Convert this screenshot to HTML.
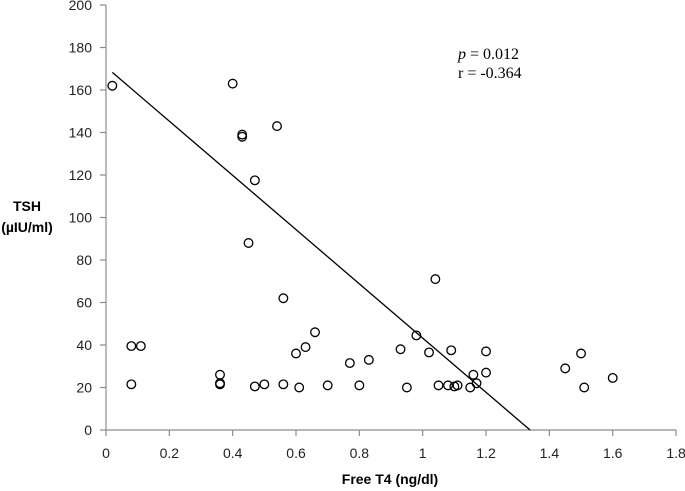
<!DOCTYPE html>
<html><head><meta charset="utf-8"><style>
html,body{margin:0;padding:0;background:#fff;}
svg{display:block;font-family:"Liberation Sans",sans-serif;}
</style></head><body>
<svg id="chart" width="685" height="491" viewBox="0 0 685 491">
<g id="axes"></g>
<g id="marks"></g>
<line id="trend" stroke="#000" stroke-width="1.3"/>
<text x="27" y="211" text-anchor="middle" font-size="14" font-weight="bold">TSH</text>
<text x="27" y="232" text-anchor="middle" font-size="14" font-weight="bold">(µIU/ml)</text>
<text x="390" y="484" text-anchor="middle" font-size="14" font-weight="bold">Free T4 (ng/dl)</text>
<text x="458" y="59" font-family="Liberation Serif,serif" font-size="16"><tspan font-style="italic">p</tspan> = 0.012</text>
<text x="458" y="78" font-family="Liberation Serif,serif" font-size="16">r =  -0.364</text>
</svg>
<script>
const xTicks=[0,0.2,0.4,0.6,0.8,1,1.2,1.4,1.6,1.8];
const xTickLabels=["0","0.2","0.4","0.6","0.8","1","1.2","1.4","1.6","1.8"];
const yTicks=[0,20,40,60,80,100,120,140,160,180,200];
const freeT4=[0.02,0.08,0.11,0.08,0.36,0.36,0.36,0.40,0.43,0.43,0.47,0.45,0.54,0.56,0.47,0.50,0.56,0.61,0.60,0.63,0.66,0.70,0.77,0.80,0.83,0.93,0.95,0.98,1.02,1.04,1.05,1.08,1.09,1.10,1.11,1.15,1.16,1.17,1.20,1.20,1.45,1.50,1.51,1.60];
const tsh=[162,39.5,39.5,21.5,26,22,21.5,163,139,138,117.5,88,143,62,20.5,21.5,21.5,20,36,39,46,21,31.5,21,33,38,20,44.5,36.5,71,21,21,37.5,20.5,21,20,26,22,37,27,29,36,20,24.5];
const trendX=[0.02,1.339];
const trendY=[168.3,0];
const NS="http://www.w3.org/2000/svg";
function sx(v){return 106+v*316.7;}
function sy(v){return 430-v*2.125;}
const axes=document.getElementById('axes');
function mk(tag,attrs,parent){const e=document.createElementNS(NS,tag);for(const k in attrs)e.setAttribute(k,attrs[k]);parent.appendChild(e);return e;}
const xa=mk('line',{x1:106,y1:430,x2:sx(1.8),y2:430,stroke:'#8c8c8c','stroke-width':1.2},axes);


const ya=mk('line',{x1:106,y1:430,x2:106,y2:sy(200),stroke:'#8c8c8c','stroke-width':1.2},axes);


xTicks.forEach((t,i)=>{
 const tk=mk('line',{x1:sx(t),y1:430,x2:sx(t),y2:436,stroke:'#8c8c8c','stroke-width':1.2},axes);
 
 
 const tx=mk('text',{x:sx(t),y:458,'text-anchor':'middle','font-size':14,fill:'#222'},axes);
 tx.textContent=xTickLabels[i];
 
 
});
yTicks.forEach(t=>{
 const tk=mk('line',{x1:100,y1:sy(t),x2:106,y2:sy(t),stroke:'#8c8c8c','stroke-width':1.2},axes);
 
 
 const tx=mk('text',{x:92,y:sy(t)+5,'text-anchor':'end','font-size':14,fill:'#222'},axes);
 tx.textContent=String(t);
 
 
});
const marks=document.getElementById('marks');
freeT4.forEach((v,i)=>{
 const c=mk('circle',{cx:sx(v),cy:sy(tsh[i]),r:4.3,fill:'none',stroke:'#000','stroke-width':1.3},marks);
 
 
});
const tl=document.getElementById('trend');
tl.setAttribute('x1',sx(trendX[0]));tl.setAttribute('y1',sy(trendY[0]));
tl.setAttribute('x2',sx(trendX[1]));tl.setAttribute('y2',sy(trendY[1]));
</script>
</body></html>
